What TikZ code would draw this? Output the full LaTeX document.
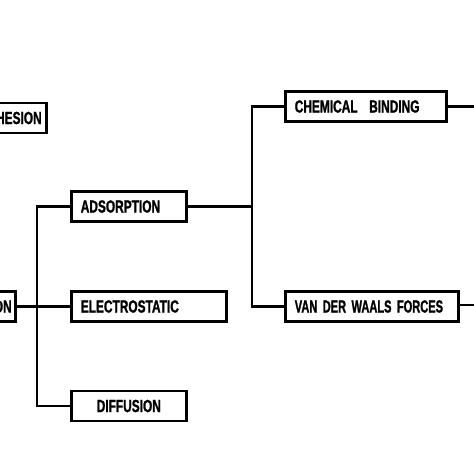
\documentclass[tikz,border=0pt]{standalone}
\usepackage{fontspec}
\setmainfont[FakeStretch=0.68, BoldFeatures={FakeStretch=0.68, FakeBold=1.2}]{Liberation Sans}
\begin{document}
\begin{tikzpicture}[x=1pt,y=-1pt,
  box/.style={draw, line width=2.6pt, minimum height=30pt, inner ysep=0pt, inner xsep=9.5pt,
    font=\fontsize{17.5}{19}\selectfont\bfseries, align=left},
  link/.style={line width=2.1pt}]
\useasboundingbox (0,0) rectangle (474,474);
\clip (0,0) rectangle (474,474);
% nodes
\node[box, anchor=east, inner xsep=5pt] (adh) at (48,118) {ADHESION};
\node[box, anchor=east, inner xsep=4pt] (root) at (17,306.5) {ON};
\node[box, anchor=west, text width=96pt] (adsorp) at (70,206.5) {ADSORPTION};
\node[box, anchor=west, text width=136pt] (electro) at (70,306.5) {ELECTROSTATIC};
\node[box, anchor=west, text width=100pt, align=center, inner xsep=7.5pt] (diff) at (70,406) {DIFFUSION};
\node[box, anchor=west, text width=142pt] (chem) at (284,106.5) {\mbox{CHEMICAL\ \ BINDING}};
\node[box, anchor=west, text width=154pt] (vdw) at (284,306.5) {\scalebox{0.93}[1]{VAN DER WAALS FORCES}};
% trunk coordinates
\coordinate (t1) at (37,0);
\coordinate (t2) at (252,0);
\coordinate (r1) at (480,106.5);
\coordinate (r2) at (480,305);
% connectors
\draw[link] (root.east) -- (electro.west);
\draw[link] (adsorp.west) -- (adsorp.west -| t1) -- (diff.west -| t1) -- (diff.west);
\draw[link] (adsorp.east) -- (adsorp.east -| t2);
\draw[link] (chem.west) -- (chem.west -| t2) -- (vdw.west -| t2) -- (vdw.west);
\draw[link] (chem.east) -- (r1);
\draw[link] (vdw.east |- r2) -- (r2);
\end{tikzpicture}
\end{document}
